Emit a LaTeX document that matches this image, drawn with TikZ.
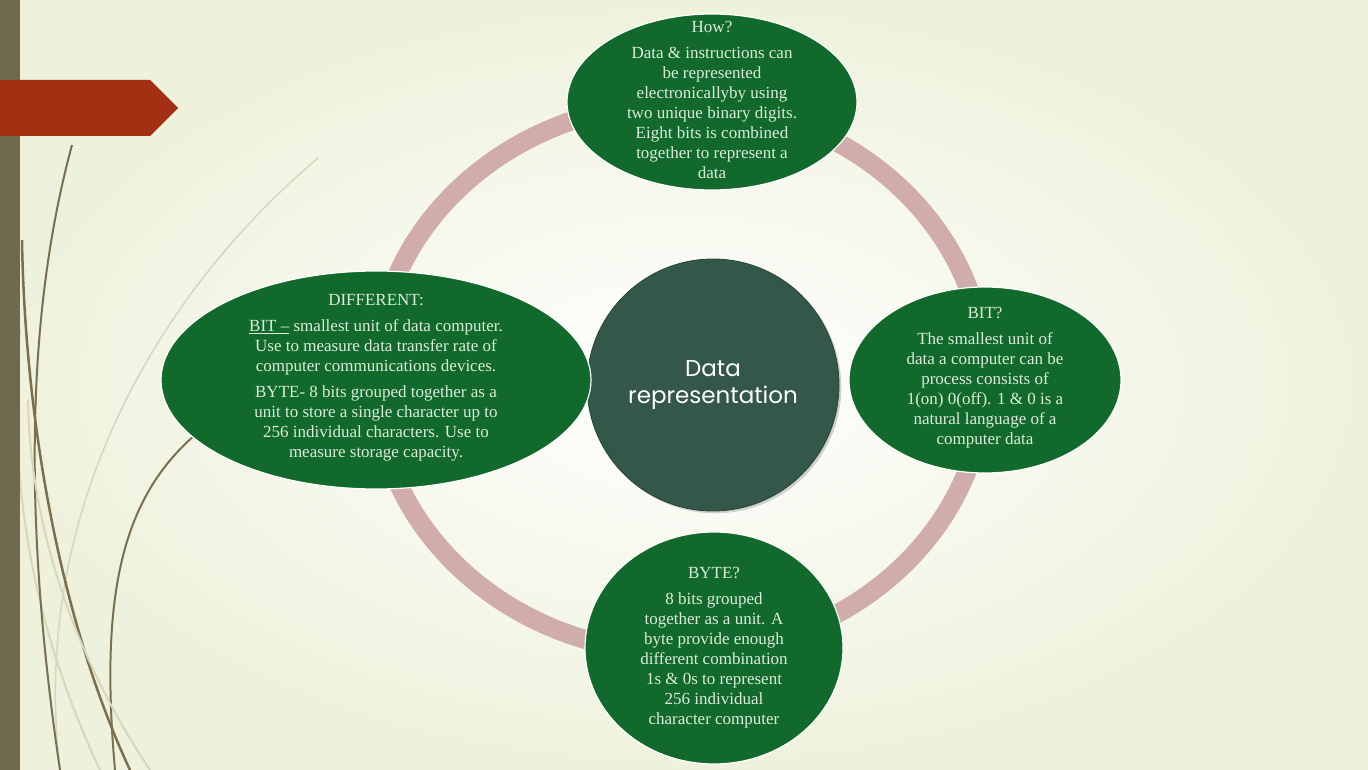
\documentclass[tikz,border=0pt]{standalone}
\usepackage{fontspec}
\setmainfont{Liberation Serif}
\newfontfamily\gothic{Poppins}
\usetikzlibrary{shadows,shapes.geometric}
\definecolor{bg}{HTML}{EEF2DC}
\definecolor{bar}{HTML}{6F6A4E}
\definecolor{redarr}{HTML}{A52F12}
\definecolor{ring}{HTML}{D0ACAA}
\definecolor{gn}{HTML}{116A2B}
\definecolor{ctr}{HTML}{33584A}
\definecolor{txt}{HTML}{DDEBDB}
\definecolor{stem}{HTML}{7A7050}
\definecolor{stemlt}{HTML}{D6D8BC}
\begin{document}
\begin{tikzpicture}[x=1pt,y=-1pt,
  bub/.style={ellipse,fill=gn,draw=white,line width=1.2pt,inner sep=0pt},
  lbl/.style={text=txt,align=center,font=\fontsize{17}{20}\selectfont,inner sep=0pt},
]
\useasboundingbox (0,0) rectangle (1368,770);
\shade[inner color=white,outer color=bg] (0,0) rectangle (1368,770);
% decorative stems
\draw[stemlt,line width=1.5pt] (60,770) .. controls (30,520) and (150,300) .. (318,158);
\draw[stemlt,line width=2pt] (100,770) .. controls (20,600) and (10,450) .. (20,330);
\draw[stem,line width=2pt] (60,770) .. controls (20,500) and (30,300) .. (72,145);
\draw[stem,line width=2.5pt] (130,770) .. controls (60,620) and (25,420) .. (22,240);
\draw[stem,line width=2pt] (115,770) .. controls (100,600) and (120,500) .. (195,435);
\draw[stemlt,line width=2pt] (150,770) .. controls (70,650) and (30,520) .. (28,400);
\fill[bar] (0,0) rectangle (20,770);
\fill[redarr] (0,80) -- (150,80) -- (178,108) -- (150,136) -- (0,136) -- cycle;
% ring
\draw[ring,line width=19pt] (680,378) ellipse [x radius=305,y radius=275];
% centre
\node[circle,fill=ctr,minimum size=252pt,draw=ctr!80!black,line width=0.8pt,drop shadow={opacity=0.35},text=white,align=center,font=\gothic\fontsize{23}{27}\selectfont] (c) at (713,385) {Data\\representation};
\node[bub,minimum width=290pt,minimum height=176pt] (top) at (712,102) {};
\node[bub,minimum width=272pt,minimum height=186pt] (right) at (985,380) {};
\node[bub,minimum width=258pt,minimum height=232pt] (bottom) at (714,648) {};
\node[bub,minimum width=430pt,minimum height=218pt] (left) at (376,380) {};
\node[lbl] (topt) at (712,100) {How?\\[6pt]Data \& instructions can\\be represented\\electronicallyby using\\two unique binary digits.\\Eight bits is combined\\together to represent a\\data};
\node[lbl] (rightt) at (985,378) {BIT?\\[6pt]The smallest unit of\\data a computer can be\\process consists of\\1(on) 0(off). 1 \& 0 is a\\natural language of a\\computer data};
\node[lbl] (bottomt) at (714,648) {BYTE?\\[6pt]8 bits grouped\\together as a unit. A\\byte provide enough\\different combination\\1s \& 0s to represent\\256 individual\\character computer};
\node[lbl] (leftt) at (376,378) {DIFFERENT:\\[6pt]\underline{BIT –} smallest unit of data computer.\\Use to measure data transfer rate of\\computer communications devices.\\[6pt]BYTE- 8 bits grouped together as a\\unit to store a single character up to\\256 individual characters. Use to\\measure storage capacity.};
\end{tikzpicture}
\end{document}
